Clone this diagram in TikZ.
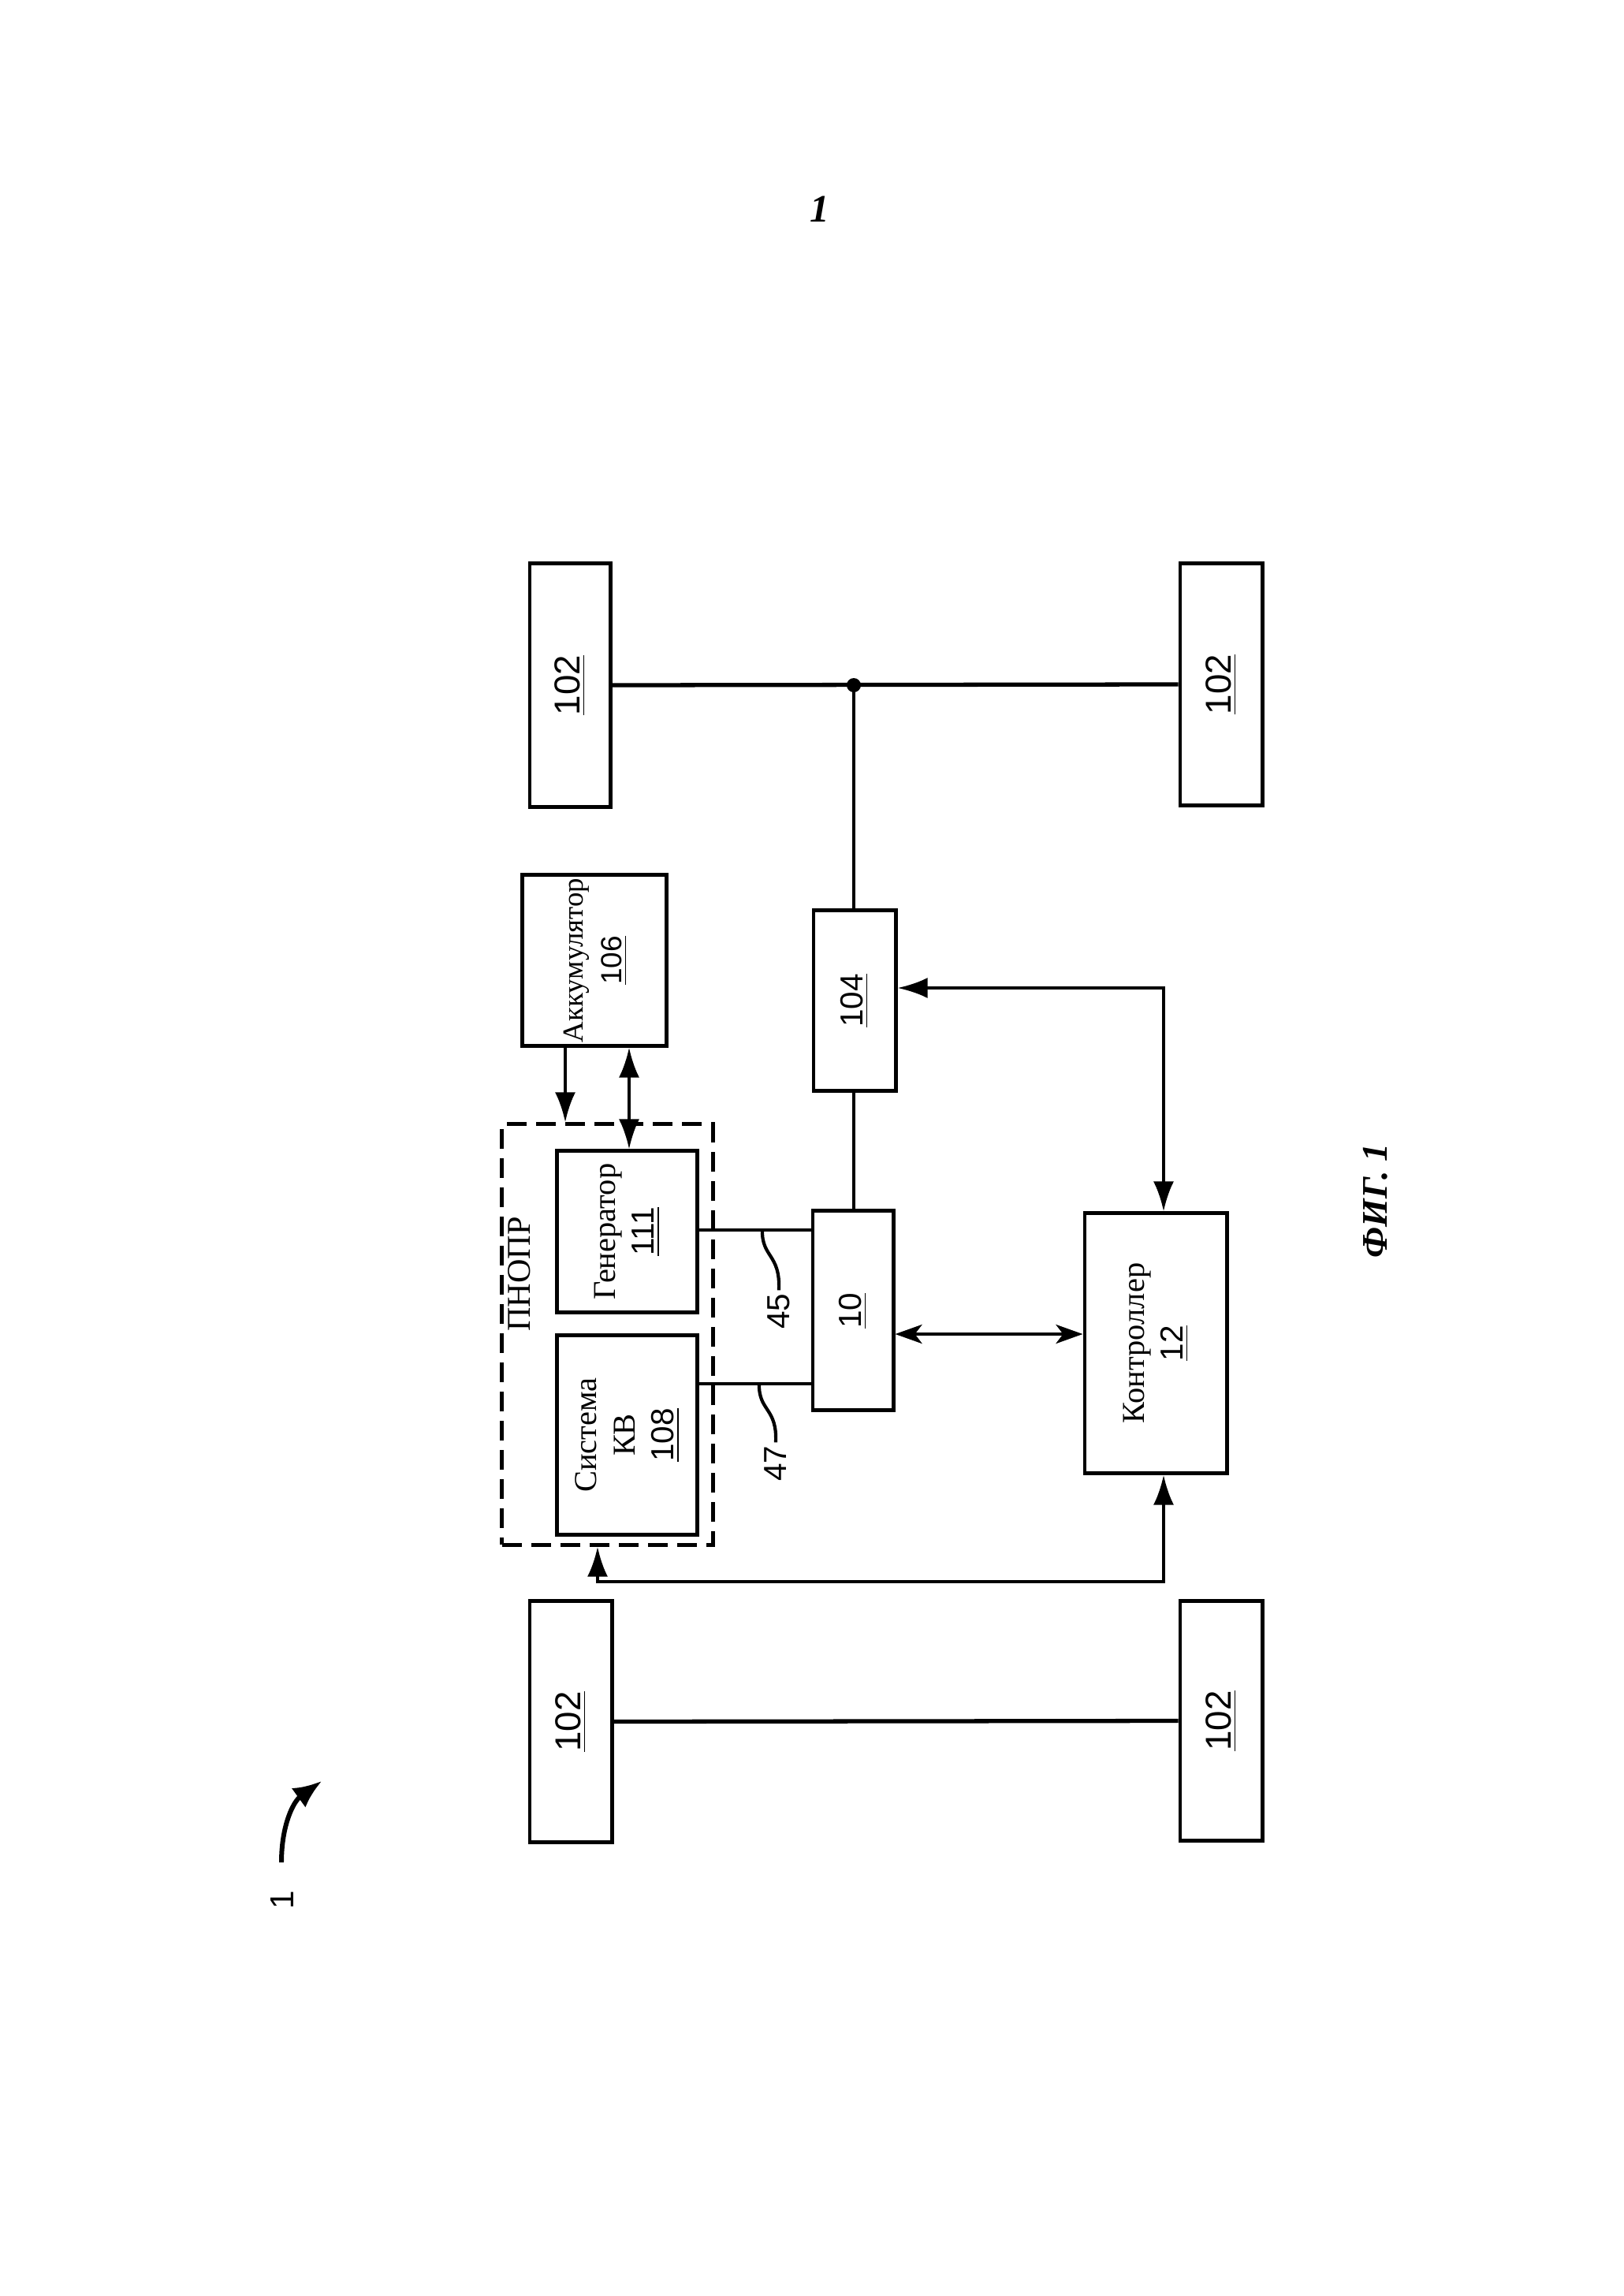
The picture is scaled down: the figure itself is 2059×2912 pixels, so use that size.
\documentclass[tikz,border=0pt]{standalone}
\usepackage{fontspec}
\usepackage{graphicx}
\setmainfont{Liberation Serif}
\newfontfamily\numfont{Liberation Sans}
\usetikzlibrary{arrows.meta}
\newcommand{\nmb}[1]{{\numfont\underline{#1}}}
\newcommand{\rtext}[2][11]{\rotatebox{90}{\fontsize{#1}{14}\selectfont\begin{tabular}{@{}c@{}}#2\end{tabular}}}
\begin{document}
\begin{tikzpicture}[x=0.01cm,y=-0.01cm,
  box/.style={draw, line width=1.4pt, inner sep=0pt, align=center},
  dbox/.style={draw, line width=1.4pt, inner sep=0pt, dash pattern=on 0.25cm off 0.12cm},
  conn/.style={line width=1.2pt},
  arr/.style={conn, -{Latex[length=0.38cm,width=0.26cm]}},
  darr/.style={conn, {Latex[length=0.38cm,width=0.26cm]}-{Latex[length=0.38cm,width=0.26cm]}},
  sarr/.style={conn, {Stealth[length=0.34cm,width=0.24cm,inset=0.09cm]}-{Stealth[length=0.34cm,width=0.24cm,inset=0.09cm]}},
  reftxt/.style={font=\numfont\fontsize{11.5}{13}\selectfont, rotate=90, inner sep=1pt},
]
\useasboundingbox (0,0) rectangle (2059,2912);

% wheels
\node[box, minimum width=1.02cm, minimum height=3.08cm] (w1) at (723,869) {\rotatebox{90}{\numfont\fontsize{13}{15}\selectfont\underline{102}}};
\node[box, minimum width=1.04cm, minimum height=3.06cm] (w2) at (1549,868) {\rotatebox{90}{\numfont\fontsize{13}{15}\selectfont\underline{102}}};
\node[box, minimum width=1.04cm, minimum height=3.05cm] (w3) at (724,2183.5) {\rotatebox{90}{\numfont\fontsize{13}{15}\selectfont\underline{102}}};
\node[box, minimum width=1.04cm, minimum height=3.03cm] (w4) at (1549,2182.5) {\rotatebox{90}{\numfont\fontsize{13}{15}\selectfont\underline{102}}};

% blocks
\node[box, minimum width=1.82cm, minimum height=2.16cm] (acc) at (754,1218) {\rtext[10.5]{Аккумулятор\\\nmb{106}}};
\node[dbox, minimum width=2.67cm, minimum height=5.33cm] (pnopr) at (770.5,1692.5) {};
\node[box, minimum width=1.77cm, minimum height=2.04cm] (gen) at (795.5,1562) {\rtext[11.5]{Генератор\\\nmb{111}}};
\node[box, minimum width=1.77cm, minimum height=2.52cm] (kv) at (795.5,1820) {\rtext[11.5]{Система\\КВ\\\nmb{108}}};
\node[box, minimum width=1.04cm, minimum height=2.28cm] (b104) at (1084,1269) {\rotatebox{90}{\numfont\fontsize{11.5}{13}\selectfont\underline{104}}};
\node[box, minimum width=1.02cm, minimum height=2.52cm] (b10) at (1082,1662) {\rotatebox{90}{\numfont\fontsize{11.5}{13}\selectfont\underline{10}}};
\node[box, minimum width=1.80cm, minimum height=3.29cm] (ctrl) at (1466,1703.5) {\rtext[11.5]{Контроллер\\\nmb{12}}};

% texts
\node[rotate=90, font=\fontsize{12}{14}\selectfont, inner sep=0pt] (pnlabel) at (659,1616) {ПНОПР};
\node[font=\bfseries\itshape\fontsize{14}{16}\selectfont, inner sep=0pt] (pagenum) at (1040,265) {1};
\node[rotate=90, font=\bfseries\itshape\fontsize{13}{15}\selectfont, inner sep=0pt] (fig) at (1745,1523) {ФИГ. 1};
\node[reftxt] (l45) at (988,1663) {45};
\node[reftxt] (l47) at (984,1856) {47};
\node[rotate=90, font=\numfont\fontsize{12}{14}\selectfont, inner sep=1pt] (l1) at (358,2410) {1};

% coordinates
\coordinate (j) at (1083,869);
\coordinate (c45) at (967,1560);
\coordinate (c47) at (963,1755);
\coordinate (a1) at (1476,1253);
\coordinate (a2) at (1200,1692);
\coordinate (a3) at (758,2006);
\coordinate (x1) at (717,0);
\coordinate (x2) at (798,0);
\coordinate (r1s) at (357,2362);
\coordinate (r1e) at (408,2259);

% axles
\draw[line width=1.5pt] (w1.east) -- (w2.west);
\draw[line width=1.5pt] (w3.east) -- (w4.west);
\fill (j) circle[radius=0.09cm];
\draw[conn] (j) -- (j |- b104.north);
\draw[conn] (b104.south -| j) -- (b10.north -| j);

% shafts 45, 47
\draw[conn] (gen.east |- c45) -- (b10.west |- c45);
\draw[conn] (kv.east |- c47) -- (b10.west |- c47);
\draw[conn] (c45) .. controls (966,1595) and (990,1590) .. (l45.east);
\draw[conn] (c47) .. controls (962,1790) and (986,1785) .. (l47.east);

% battery arrows
\draw[arr] (acc.south -| x1) -- (pnopr.north -| x1);
\draw[darr] (acc.south -| x2) -- (gen.north -| x2);

% controller links
\draw[darr] (b104.east |- a1) -| (a1 |- ctrl.north);
\draw[sarr] (b10.east |- a2) -- (ctrl.west |- a2);
\draw[darr] (a1 |- ctrl.south) |- (a3) -- (a3 |- pnopr.south);

% reference arrow
\draw[line width=1.7pt, -{Latex[length=0.36cm,width=0.3cm]}] (r1s) .. controls (357,2315) and (372,2285) .. (r1e);
\end{tikzpicture}
\end{document}
